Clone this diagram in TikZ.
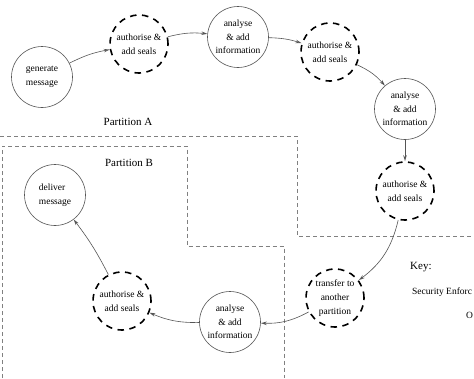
\documentclass[tikz,border=0pt]{standalone}
\usepackage{fontspec}
\setmainfont{Liberation Serif}
\usetikzlibrary{arrows.meta}
\definecolor{lgray}{HTML}{555555}
\definecolor{pgray}{HTML}{808080}
\tikzset{
  proc/.style={circle, draw=lgray, line width=0.6pt, minimum size=61pt, inner sep=0pt, align=center, font=\fontsize{9.5}{13.5}\selectfont},
  auth/.style={circle, draw=black, line width=1.6pt, dash pattern=on 6.5pt off 5.5pt, minimum size=58pt, inner sep=0pt, align=center, font=\fontsize{9.5}{14}\selectfont},
  flow/.style={draw=lgray, line width=0.6pt, -{Stealth[length=6pt,width=3.5pt,open]}},
  part/.style={draw=pgray, line width=0.6pt, dash pattern=on 4pt off 3pt},
  lbl/.style={font=\fontsize{11}{13}\selectfont, inner sep=0pt},
  keytxt/.style={font=\fontsize{9.5}{12}\selectfont, inner sep=0pt, anchor=west}
}
\begin{document}
\begin{tikzpicture}[x=1pt,y=-1pt]
\useasboundingbox (0,0) rectangle (474,378);
% partitions
\coordinate (a1) at (0,136);
\coordinate (a2) at (297,136);
\coordinate (a3) at (297,236);
\coordinate (a4) at (474,236);
\draw[part] (a1) -- (a2) -- (a3) -- (a4);
\coordinate (b1) at (2.5,378);
\coordinate (b2) at (2.5,146);
\coordinate (b3) at (187,146);
\coordinate (b4) at (187,246);
\coordinate (b5) at (284,246);
\coordinate (b6) at (284,378);
\draw[part] (b1) -- (b2) -- (b3) -- (b4) -- (b5) -- (b6);
\node[lbl] (pa) at (128,122) {Partition A};
\node[lbl] (pb) at (129,163) {Partition B};
% nodes
\node[proc] (n1) at (42,77) {generate\\message};
\node[auth] (n2) at (139,44) {authorise \&\\add seals};
\node[proc] (n3) at (238,37) {analyse\\\& add\\information};
\node[auth] (n4) at (330,52) {authorise \&\\add seals};
\node[proc] (n5) at (405,109) {analyse\\\& add\\information};
\node[auth] (n6) at (405,191) {authorise \&\\add seals};
\node[auth] (n7) at (335,298) {transfer to\\another\\partition};
\node[proc] (n8) at (230,322) {analyse\\\& add\\information};
\node[auth] (n9) at (122,301) {authorise \&\\add seals};
\node[proc, align=left] (n10) at (55,195) {deliver\\message};
% flows
\draw[flow] (n1) to[bend left=8] (n2);
\draw[flow] (n2) to[bend left=10] (n3);
\draw[flow] (n3) to[bend left=8] (n4);
\draw[flow] (n4) to[bend left=12] (n5);
\draw[flow] (n5) -- (n6);
\draw[flow] (n6) to[bend left=20] (n7);
\draw[flow] (n7) to[bend left=15] (n8);
\draw[flow] (n8) to[bend left=12] (n9);
\draw[flow] (n9) to[bend right=5] (n10);
% key
\node[lbl, anchor=west] (key) at (410,267) {Key:};
\node[keytxt] (k1) at (412,292) {Security Enforc};
\node[keytxt] (k2) at (466,315) {O};
\end{tikzpicture}
\end{document}
